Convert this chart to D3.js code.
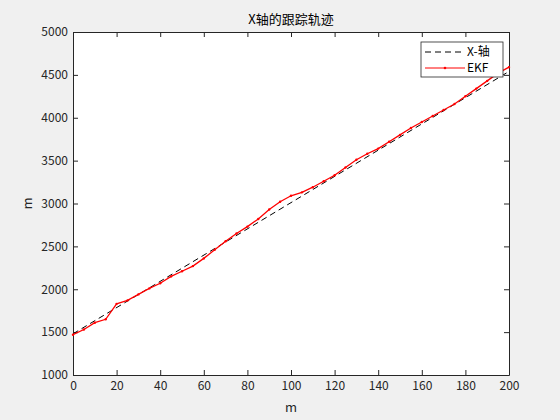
<!DOCTYPE html><html><head><meta charset="utf-8"><script src="https://cdn.jsdelivr.net/npm/d3@7"></script>
<style>body{margin:0;background:#fff}text{font-family:"Noto Sans CJK SC",Arial,sans-serif}</style></head><body><svg id="c" width="560" height="420"></svg><script>
const truthX=[0,200], truthY=[1480,4540];
const ekfX=[0,5,10,15,20,25,30,35,40,45,50,55,60,65,70,75,80,85,90,95,100,105,110,115,120,125,130,135,140,145,150,155,160,165,170,175,180,185,190,195,200];
const ekfY=[1470,1530,1610,1650,1830,1870,1940,2010,2070,2150,2210,2270,2360,2460,2560,2650,2730,2820,2930,3020,3090,3130,3190,3260,3330,3420,3510,3580,3640,3720,3800,3880,3950,4020,4090,4160,4250,4340,4430,4520,4590];
const xTicks=d3.range(0,201,20), yTicks=d3.range(1000,5001,500);
const svg=d3.select("#c");
svg.append("rect").attr("width",560).attr("height",420).attr("fill","#f0f0f0");
const L=73,R=509,T=32,B=375;
svg.append("rect").attr("x",L).attr("y",T).attr("width",R-L).attr("height",B-T).attr("fill","#fff");
const x=d3.scaleLinear([0,200],[L,R]), y=d3.scaleLinear([1000,5000],[B,T]);
const ax=(g)=>{g.selectAll("path").attr("stroke","#262626");g.selectAll("line").attr("stroke","#262626");g.selectAll("text").attr("fill","#262626").attr("font-size",12).attr("font-family","Arial")};
svg.append("g").attr("transform",`translate(0,${B})`).call(d3.axisBottom(x).tickValues(xTicks).tickFormat(d3.format("d")).tickSizeInner(-5).tickSizeOuter(0).tickPadding(6)).call(ax);
svg.append("g").attr("transform",`translate(0,${T})`).call(d3.axisTop(x).tickValues(xTicks).tickSizeInner(-5).tickSizeOuter(0).tickFormat("")).call(ax);
svg.append("g").attr("transform",`translate(${L},0)`).call(d3.axisLeft(y).tickValues(yTicks).tickFormat(d3.format("d")).tickSizeInner(-5).tickSizeOuter(0).tickPadding(5)).call(ax);
svg.append("g").attr("transform",`translate(${R},0)`).call(d3.axisRight(y).tickValues(yTicks).tickSizeInner(-5).tickSizeOuter(0).tickFormat("")).call(ax);
const clip=svg.append("g");
clip.append("path").attr("d",d3.line()(truthX.map((v,i)=>[x(v),y(truthY[i])]))).attr("stroke","#000").attr("stroke-dasharray","6,4").attr("fill","none");
const pts=ekfX.map((v,i)=>[x(v),y(ekfY[i])]);
clip.append("path").attr("d",d3.line()(pts)).attr("stroke","#ff0000").attr("stroke-width",1.3).attr("fill","none");
clip.selectAll("circle").data(pts).enter().append("circle").attr("cx",d=>d[0]).attr("cy",d=>d[1]).attr("r",1.2).attr("fill","#ff0000");
svg.append("text").attr("x",(L+R)/2).attr("y",24).attr("text-anchor","middle").attr("font-size",13).attr("fill","#000").text("X轴的跟踪轨迹");
svg.append("text").attr("x",(L+R)/2).attr("y",412).attr("text-anchor","middle").attr("font-size",13).attr("fill","#262626").text("m");
svg.append("text").attr("transform",`translate(32,${(T+B)/2}) rotate(-90)`).attr("text-anchor","middle").attr("font-size",13).attr("fill","#262626").text("m");
const lg=svg.append("g");
lg.append("rect").attr("x",421).attr("y",42).attr("width",82).attr("height",35).attr("fill","#fff").attr("stroke","#262626").attr("stroke-width",0.8);
lg.append("line").attr("x1",425).attr("x2",465).attr("y1",52).attr("y2",52).attr("stroke","#000").attr("stroke-dasharray","6,4");
lg.append("line").attr("x1",425).attr("x2",465).attr("y1",68).attr("y2",68).attr("stroke","#ff0000");
lg.append("circle").attr("cx",445).attr("cy",68).attr("r",1.3).attr("fill","#ff0000");
lg.append("text").attr("x",467).attr("y",56).attr("font-size",12).attr("fill","#000").text("X-轴");
lg.append("text").attr("x",467).attr("y",72).attr("font-size",12).attr("fill","#000").attr("font-family","Arial").text("EKF");
</script></body></html>
